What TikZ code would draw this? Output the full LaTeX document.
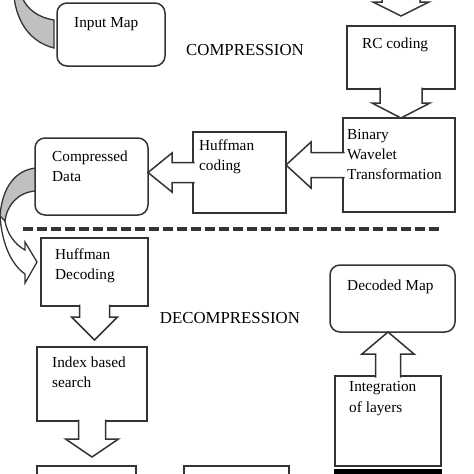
\documentclass[tikz,border=0pt]{standalone}
\usepackage{fontspec}
\setmainfont{Liberation Serif}
\usetikzlibrary{calc}
\definecolor{ln}{HTML}{333333}
\definecolor{arrgray}{HTML}{C0C0C0}
\newcommand\blockarr[5]{%
  \coordinate (ba-h) at ($(#2)!#5!(#1)$);
  \filldraw[blk] ($(#1)!#3!90:(#2)$) -- ($(ba-h)!#3!90:(#2)$) -- ($(ba-h)!#4!90:(#2)$) -- (#2)
     -- ($(ba-h)!#4!-90:(#2)$) -- ($(ba-h)!#3!-90:(#2)$) -- ($(#1)!#3!-90:(#2)$);
}
\begin{document}
\begin{tikzpicture}[x=1pt,y=-1pt,
  box/.style={draw=ln, line width=1.5pt, fill=white, anchor=north west, inner sep=0pt, outer sep=0pt},
  rbox/.style={box, rounded corners=10pt},
  blk/.style={draw=ln, line width=1.5pt, fill=white, line join=miter},
  curv/.style={draw=ln, line width=1.3pt},
  txt/.style={font=\fontsize{15.3}{20}\selectfont, inner sep=0pt, align=left},
  head/.style={font=\fontsize{16.8}{20}\selectfont, inner sep=0pt}]
\useasboundingbox (0,0) rectangle (474,474);
% curved arrows
\filldraw[curv, fill=arrgray] (14,-3) .. controls (17,22) and (30,42) .. (54,48) -- (54,20) .. controls (40,18) and (27,10) .. (22,-3) -- cycle;
\filldraw[curv, fill=white] (0,216) .. controls (2,245) and (12,265) .. (25,274) -- (25,283) -- (37,262) -- (25,242) -- (25,250) .. controls (14,244) and (7,233) .. (5,221);
\filldraw[curv, fill=arrgray] (36,168) .. controls (15,170) and (2,188) .. (0,216) -- (5,221) .. controls (7,205) and (18,192) .. (36,191);
% boxes
\node[rbox, minimum width=108pt, minimum height=63pt] (input) at (57,3) {};
\node[box, minimum width=108pt, minimum height=63pt] (rc) at (347,26) {};
\node[box, minimum width=112pt, minimum height=94pt] (binary) at (343,118) {};
\node[box, minimum width=93pt, minimum height=81pt] (huffc) at (193,132) {};
\node[rbox, minimum width=113pt, minimum height=77pt] (comp) at (35,138) {};
\node[box, minimum width=107pt, minimum height=68pt] (huffd) at (41,238) {};
\node[box, minimum width=110pt, minimum height=74pt] (index) at (37,347) {};
\node[rbox, minimum width=125pt, minimum height=67pt] (decoded) at (330,265) {};
\node[box, minimum width=106pt, minimum height=90pt] (integ) at (335,376) {};
\node[box, minimum width=99pt, minimum height=40pt] (bot1) at (37,466) {};
\node[box, minimum width=105pt, minimum height=40pt] (bot2) at (184,466) {};
\node[box, fill=black, draw=black, minimum width=106pt, minimum height=40pt] (bot3) at (335,470) {};
% block arrows
\coordinate (s1) at (401,-20);
\coordinate (t1) at ($(s1 |- rc.north)+(0,-10)$);
\blockarr{s1}{t1}{19pt}{28pt}{14pt}
\coordinate (s2) at ($(rc.south)+(0,-1.5)$);
\coordinate (t2) at (rc.south |- binary.north);
\blockarr{s2}{t2}{21pt}{29pt}{15pt}
\coordinate (s3) at ($(binary.west)+(1.5,0)$);
\coordinate (t3) at (huffc.east |- binary.west);
\blockarr{s3}{t3}{12.5pt}{23pt}{25pt}
\coordinate (s4) at ($(huffc.west)+(1.5,0)$);
\coordinate (t4) at (comp.east |- huffc.west);
\blockarr{s4}{t4}{10pt}{19.5pt}{24pt}
\coordinate (s5) at ($(huffd.south)+(0,-1.5)$);
\coordinate (t5) at ($(huffd.south |- index.north)+(0,-7)$);
\blockarr{s5}{t5}{15pt}{23pt}{23pt}
\coordinate (s6) at ($(index.south)+(0,-1.5)$);
\coordinate (t6) at ($(index.south |- bot1.north)+(0,-9)$);
\blockarr{s6}{t6}{13.5pt}{26.5pt}{18pt}
\coordinate (s7) at ($(integ.north)+(0,1.5)$);
\coordinate (t7) at (integ.north |- decoded.south);
\blockarr{s7}{t7}{12.5pt}{26pt}{22pt}
% dashed separator
\coordinate (dl) at (23,229);
\coordinate (dr) at (441,229);
\draw[ln, line width=3.2pt, dash pattern=on 9.5pt off 4.5pt] (dl) -- (dr);
% texts
\node[txt, anchor=west] (tinput) at (74,24) {Input Map};
\node[head] (tcomp) at (245,50) {COMPRESSION};
\node[txt, anchor=west] (trc) at (362,45) {RC coding};
\node[txt, anchor=north west] (tbin) at (347,129) {Binary\\Wavelet\\Transformation};
\node[txt, anchor=north west] (thc) at (199,140) {Huffman\\coding};
\node[txt, anchor=north west] (tcd) at (52,151) {Compressed\\Data};
\node[txt, anchor=north west] (thd) at (55,249) {Huffman\\Decoding};
\node[txt, anchor=north west] (tidx) at (52,357) {Index based\\search};
\node[txt, anchor=west] (tdm) at (347,287) {Decoded Map};
\node[head] (tdecomp) at (230,318) {DECOMPRESSION};
\node[txt, anchor=north west, font=\fontsize{15.3}{21}\selectfont] (tint) at (349,381) {Integration\\of layers};
\end{tikzpicture}
\end{document}
